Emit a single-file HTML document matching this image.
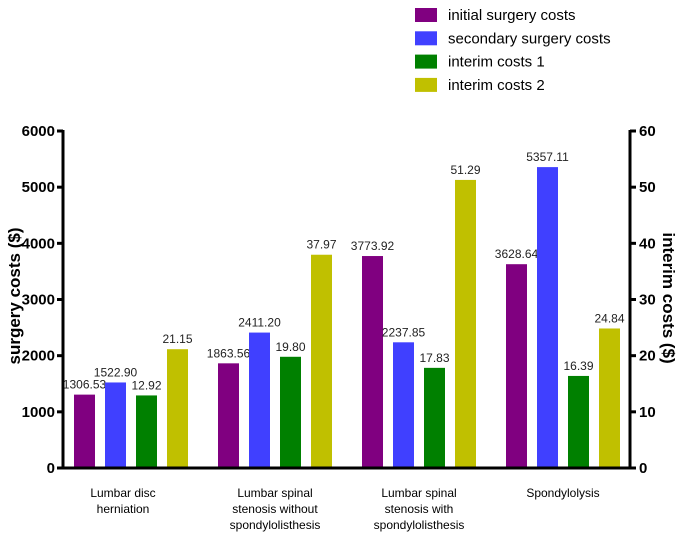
<!DOCTYPE html>
<html><head><meta charset="utf-8"><style>
html,body{margin:0;padding:0;background:#fff;}
svg{display:block;font-family:"Liberation Sans",Arial,sans-serif;}
</style></head><body>
<svg id="chart" width="685" height="537"></svg>
<script>
const categories=[["Lumbar disc","herniation"],["Lumbar spinal","stenosis without","spondylolisthesis"],["Lumbar spinal","stenosis with","spondylolisthesis"],["Spondylolysis"]];
const initialSurgery=[1306.53,1863.56,3773.92,3628.64];
const secondarySurgery=[1522.90,2411.20,2237.85,5357.11];
const interim1=[12.92,19.80,17.83,16.39];
const interim2=[21.15,37.97,51.29,24.84];
const leftTicks=[0,1000,2000,3000,4000,5000,6000];
const rightTicks=[0,10,20,30,40,50,60];
const seriesNames=["initial surgery costs","secondary surgery costs","interim costs 1","interim costs 2"];
const colors=["#800080","#4040ff","#008000","#c0c000"];

const NS="http://www.w3.org/2000/svg";
const svg=document.getElementById('chart');
function mk(t,a,p){const e=document.createElementNS(NS,t);for(const k in a)e.setAttribute(k,a[k]);(p||svg).appendChild(e);return e;}
const x0=63,x1=630,yTop=131,yBot=468;
const yL=v=>yBot-(v/6000)*(yBot-yTop);
const yR=v=>yBot-(v/60)*(yBot-yTop);
const groupX=i=>74+i*144;
const bw=21,step=31;

// legend
seriesNames.forEach((n,i)=>{
  const y=8+i*23.3;
  const r=mk('rect',{x:415,y:y,width:22,height:14,fill:colors[i]});
  
  
  const t=mk('text',{x:448,y:y+12,'font-size':15,fill:'#000'});t.textContent=n;
  
  
});

// bars
const series=[[initialSurgery,yL],[secondarySurgery,yL],[interim1,yR],[interim2,yR]];
series.forEach((s,si)=>{
  s[0].forEach((v,gi)=>{
    const x=groupX(gi)+si*step,y=s[1](v);
    const r=mk('rect',{x:x,y:y,width:bw,height:yBot-y,fill:colors[si]});
    
    
    const t=mk('text',{x:x+bw/2,y:y-6,'font-size':12,'text-anchor':'middle',fill:'#222'});t.textContent=v.toFixed(2);
    
    
  });
});

// axes
const ax=mk('g',{stroke:'#000','stroke-width':3,fill:'none'});


mk('line',{x1:x0,y1:yTop-1,x2:x0,y2:yBot+1.5},ax);
mk('line',{x1:x1,y1:yTop-1,x2:x1,y2:yBot+1.5},ax);
mk('line',{x1:x0-1.5,y1:yBot,x2:x1+1.5,y2:yBot},ax);
leftTicks.forEach(v=>{
  const y=yL(v);
  mk('line',{x1:x0-6,y1:y,x2:x0,y2:y},ax);
  const t=mk('text',{x:x0-8,y:y+5,'font-size':15,'font-weight':'bold','text-anchor':'end'});t.textContent=v;
  
  
});
rightTicks.forEach(v=>{
  const y=yR(v);
  mk('line',{x1:x1,y1:y,x2:x1+6,y2:y},ax);
  const t=mk('text',{x:x1+9,y:y+5,'font-size':15,'font-weight':'bold'});t.textContent=v;
  
  
});
let t=mk('text',{x:0,y:0,'font-size':17,'font-weight':'bold','text-anchor':'middle',transform:'translate(20,296) rotate(-90)'});t.textContent='surgery costs ($)';

t=mk('text',{x:0,y:0,'font-size':17,'font-weight':'bold','text-anchor':'middle',transform:'translate(663,298) rotate(90)'});t.textContent='interim costs ($)';


// category labels
categories.forEach((lines,gi)=>{
  const cx=groupX(gi)+1.5*step+bw/2-(gi===0?8:0);
  lines.forEach((ln,li)=>{
    const t=mk('text',{x:cx,y:497+li*16,'font-size':12,'text-anchor':'middle'});t.textContent=ln;
    
    
  });
});
</script>
</body></html>
